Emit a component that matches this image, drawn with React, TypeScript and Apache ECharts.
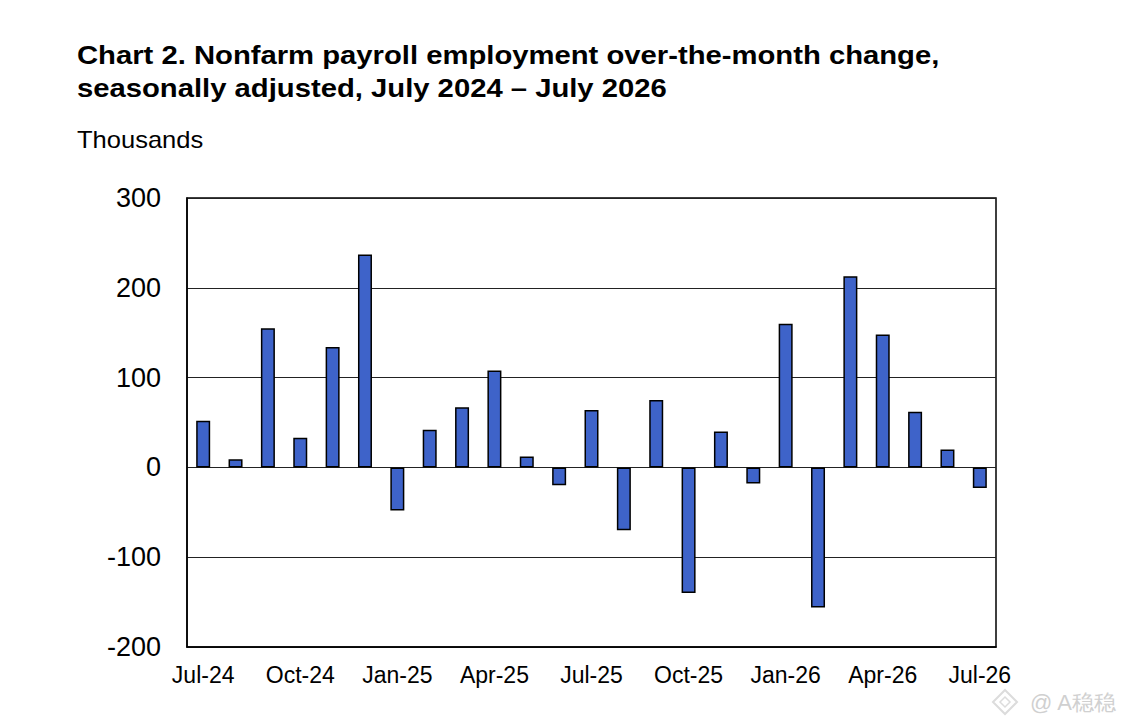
import React, { useEffect, useRef } from "react";
import * as echarts from "echarts";

const categories = [
  "Jul-24", "Aug-24", "Sep-24", "Oct-24", "Nov-24", "Dec-24",
  "Jan-25", "Feb-25", "Mar-25", "Apr-25", "May-25", "Jun-25",
  "Jul-25", "Aug-25", "Sep-25", "Oct-25", "Nov-25", "Dec-25",
  "Jan-26", "Feb-26", "Mar-26", "Apr-26", "May-26", "Jun-26", "Jul-26",
];

const changes = [
  52, 9, 155, 33, 134, 237,
  -48, 42, 67, 108, 12, -20,
  64, -70, 75, -140, 40, -18,
  160, -156, 213, 148, 62, 20, -23,
];

const titleLines = [
  "Chart 2. Nonfarm payroll employment over-the-month change,",
  "seasonally adjusted, July 2024 – July 2026",
];
const unitLabel = "Thousands";
const watermark = "@ A稳稳";

const FONT = "'Liberation Sans', Arial, Helvetica, sans-serif";

export default function App() {
  const ref = useRef<HTMLDivElement>(null);

  useEffect(() => {
    if (!ref.current) return;
    const chart = echarts.init(ref.current, null, { renderer: "svg" });
    chart.setOption({
      animation: false,
      backgroundColor: "#ffffff",
      grid: {
        left: 187,
        right: 127,
        top: 198,
        bottom: 81,
        show: true,
        borderColor: "#000",
        borderWidth: 1.5,
        backgroundColor: "transparent",
        containLabel: false,
      },
      graphic: [
        {
          type: "text",
          x: 77,
          y: 39,
          scaleX: 1.17,
          style: {
            text: titleLines.join("\n"),
            font: `bold 25px ${FONT}`,
            lineHeight: 33,
            verticalAlign: "top",
            fill: "#000",
          },
        },
        {
          type: "text",
          x: 77,
          y: 128,
          scaleX: 1.11,
          style: {
            text: unitLabel,
            font: `23px ${FONT}`,
            verticalAlign: "top",
            fill: "#000",
          },
        },
        {
          type: "polygon",
          shape: { points: [[1005, 690], [1017, 702], [1005, 714], [993, 702]] },
          style: { fill: "none", stroke: "#dcdcdc", lineWidth: 2 },
        },
        {
          type: "polygon",
          shape: { points: [[1005, 697], [1010, 702], [1005, 707], [1000, 702]] },
          style: { fill: "none", stroke: "#dcdcdc", lineWidth: 1.5 },
        },
        {
          type: "text",
          x: 1030,
          y: 691,
          style: {
            text: watermark,
            font: `22px ${FONT}`,
            verticalAlign: "top",
            fill: "#d0d0d0",
          },
        },
      ],
      xAxis: {
        type: "category",
        data: categories,
        boundaryGap: true,
        axisLine: { show: true, onZero: false, lineStyle: { color: "#000", width: 1.5 } },
        axisTick: { show: false },
        axisLabel: {
          interval: 2,
          color: "#000",
          fontFamily: FONT,
          fontSize: 23,
          margin: 16,
        },
        splitLine: { show: false },
      },
      yAxis: {
        type: "value",
        min: -200,
        max: 300,
        interval: 100,
        axisLine: { show: true, lineStyle: { color: "#000", width: 1.5 } },
        axisTick: { show: false },
        axisLabel: {
          color: "#000",
          fontFamily: FONT,
          fontSize: 27,
          margin: 26,
        },
        splitLine: { show: true, lineStyle: { color: "#222", width: 1 } },
      },
      series: [
        {
          type: "bar",
          data: changes,
          barWidth: 14,
          itemStyle: {
            color: "#3E63C9",
            borderColor: "#000",
            borderWidth: 1.5,
          },
        },
      ],
    });
    return () => chart.dispose();
  }, []);

  return (
    <div
      ref={ref}
      style={{ position: "fixed", left: 0, top: 0, width: 1123, height: 728, background: "#fff" }}
    />
  );
}
